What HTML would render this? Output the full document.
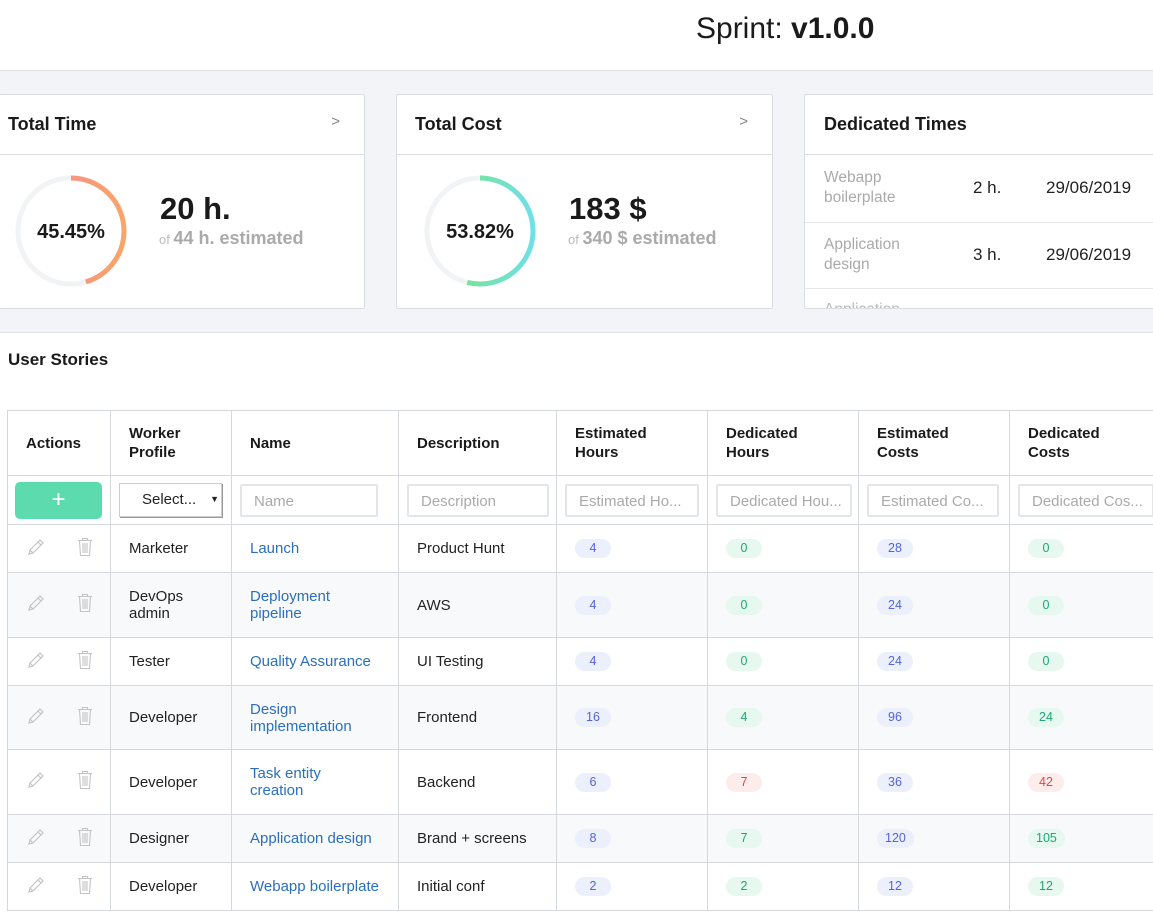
<!DOCTYPE html>
<html><head><meta charset="utf-8"><style>
*{box-sizing:border-box;margin:0;padding:0}
body{width:1153px;height:914px;overflow:hidden;background:#fff;font-family:"Liberation Sans","DejaVu Sans",sans-serif;color:#222;position:relative}
.abs{position:absolute}
.top{left:0;top:0;width:1153px;height:71px;border-bottom:1px solid #dde1e6;background:#fff}
.band{left:0;top:71px;width:1153px;height:262px;background:#f2f4f7;border-bottom:1px solid #e1e4e8}
.card{background:#fff;border:1px solid #d9dde2;border-radius:2px;top:94px;height:215px;overflow:hidden}
.ch{position:absolute;left:0;right:0;top:0;height:60px;border-bottom:1px solid #dde1e6;font-size:18px;font-weight:bold;color:#1a1a1a;padding:19px 0 0 11px}
.chev{position:absolute;right:24px;top:18px;color:#888;font-size:15px;font-weight:normal}
.big{font-size:31px;font-weight:bold;color:#1a1a1a}
.sub{font-size:18px;color:#aaa;font-weight:bold}
.sub small{font-size:13px;font-weight:normal;color:#bbb}
table{position:absolute;left:7px;top:410px;width:1162px;border-collapse:collapse;table-layout:fixed;font-size:15px}
td,th{border:1px solid #d5d8dc;padding:0 0 0 18px;text-align:left;vertical-align:middle}
th{font-weight:bold;font-size:15px;color:#1a1a1a;height:65px;line-height:19px}
tr.g td{background:#f8f9fa}
a{color:#2a6fbd;text-decoration:none}
.inp{height:33px;border:2px solid #e3e5e8;border-radius:2px;color:#aaa;font-size:15px;padding:7px 12px;white-space:nowrap;overflow:hidden;margin-left:-10px}
.p{display:inline-block;min-width:36px;height:19px;line-height:19px;border-radius:10px;text-align:center;font-size:12.5px;padding:0 8px}
.b{background:#eceffc;color:#5564d6}.gr{background:#e6f8f0;color:#1fa578}.r{background:#fdecec;color:#e04848}
.ic{color:#bbb;font-size:18px}
</style></head><body>
<svg width="0" height="0" style="position:absolute"><defs>
<symbol id="tr" viewBox="0 0 16 20"><path d="M1 3.5h14M5.5 3.5V1.5h5v2M2.5 3.5l1 15h9l1-15M6 6v10M8 6v10M10 6v10" fill="none" stroke="#c4c4c4" stroke-width="1.1"/></symbol>
<symbol id="pe" viewBox="0 0 20 20"><path d="M3 17l1-4L14 3l3 3L7 16zM4 13l3 3M12 5l3 3" fill="none" stroke="#c4c4c4" stroke-width="1.2"/></symbol>
</defs></svg>
<div class="abs top"><div class="abs" style="left:696px;top:12px;font-size:30px;color:#1a1a1a">Sprint: <b>v1.0.0</b></div></div>
<div class="abs band"></div>

<div class="abs card" style="left:-1px;width:366px">
<div class="ch" style="padding-left:8px">Total Time<span class="chev">&gt;</span></div>
<svg class="abs" style="left:0;top:60px" width="150" height="154">
<defs><linearGradient id="g1" gradientUnits="userSpaceOnUse" x1="0" y1="22" x2="0" y2="130"><stop offset="0" stop-color="#f78499"/><stop offset="1" stop-color="#f9a569"/></linearGradient>
<linearGradient id="g2" gradientUnits="userSpaceOnUse" x1="0" y1="22" x2="0" y2="130"><stop offset="0" stop-color="#7fe46a"/><stop offset="1" stop-color="#6ee0ea"/></linearGradient></defs>
<circle cx="71" cy="76" r="53" fill="none" stroke="#f1f3f5" stroke-width="5"/>
<circle cx="71" cy="76" r="53" fill="none" stroke="url(#g1)" stroke-width="5" stroke-dasharray="151.3 400" transform="rotate(-90 71 76)"/>
<text x="71" y="83" text-anchor="middle" font-size="20" font-weight="bold" fill="#1a1a1a" font-family="Liberation Sans">45.45%</text></svg>
<div class="abs big" style="left:160px;top:96px">20 h.</div>
<div class="abs sub" style="left:159px;top:133px"><small>of </small>44 h. estimated</div>
</div>

<div class="abs card" style="left:396px;width:377px">
<div class="ch" style="padding-left:18px">Total Cost<span class="chev">&gt;</span></div>
<svg class="abs" style="left:0;top:60px" width="150" height="154">
<circle cx="83" cy="76" r="53" fill="none" stroke="#f1f3f5" stroke-width="5"/>
<circle cx="83" cy="76" r="53" fill="none" stroke="url(#g2)" stroke-width="5" stroke-dasharray="179.2 400" transform="rotate(-90 83 76)"/>
<text x="83" y="83" text-anchor="middle" font-size="20" font-weight="bold" fill="#1a1a1a" font-family="Liberation Sans">53.82%</text></svg>
<div class="abs big" style="left:172px;top:96px">183 $</div>
<div class="abs sub" style="left:171px;top:133px"><small>of </small>340 $ estimated</div>
</div>

<div class="abs card" style="left:804px;width:360px">
<div class="ch" style="padding-left:19px">Dedicated Times</div>
<div class="abs" style="left:0;right:0;top:127px;border-top:1px solid #e4e6e9"></div>
<div class="abs" style="left:0;right:0;top:193px;border-top:1px solid #e4e6e9"></div>
<div class="abs" style="left:19px;top:73px;font-size:15.5px;color:#aaa;line-height:20px">Webapp<br>boilerplate</div>
<div class="abs" style="left:168px;top:83px;font-size:17px">2 h.</div>
<div class="abs" style="left:241px;top:83px;font-size:17px">29/06/2019</div>
<div class="abs" style="left:19px;top:140px;font-size:15.5px;color:#aaa;line-height:20px">Application<br>design</div>
<div class="abs" style="left:168px;top:150px;font-size:17px">3 h.</div>
<div class="abs" style="left:241px;top:150px;font-size:17px">29/06/2019</div>
<div class="abs" style="left:19px;top:206px;font-size:15.5px;color:#bbb">Application</div>
</div>

<div class="abs" style="left:8px;top:350px;font-size:17px;font-weight:bold;color:#1a1a1a">User Stories</div>

<table>
<colgroup><col style="width:103px"><col style="width:121px"><col style="width:167px"><col style="width:158px"><col style="width:151px"><col style="width:151px"><col style="width:151px"><col style="width:160px"></colgroup>
<tr><th>Actions</th><th>Worker<br>Profile</th><th>Name</th><th>Description</th><th>Estimated<br>Hours</th><th>Dedicated<br>Hours</th><th>Estimated<br>Costs</th><th>Dedicated<br>Costs</th></tr>
<tr style="height:49px"><td style="padding-left:7px"><div style="width:87px;height:37px;background:#5cdcae;border-radius:5px;color:#fff;text-align:center;font-size:24px;line-height:35px;font-weight:300">+</div></td>
<td style="padding-left:8px"><div style="width:103px;height:34px;border:1px solid #ccc;box-shadow:1px 1px 0 #999;font-size:15px;padding:7px 0 0 22px;color:#222">Select... <span style="font-size:9px;float:right;margin:3px 2px 0 0">▼</span></div></td>
<td><div class="inp" style="width:138px">Name</div></td><td><div class="inp" style="width:142px">Description</div></td><td><div class="inp" style="width:134px">Estimated Ho...</div></td><td><div class="inp" style="width:136px">Dedicated Hou...</div></td><td><div class="inp" style="width:132px">Estimated Co...</div></td><td><div class="inp" style="width:136px">Dedicated Cos...</div></td></tr>
<tr style="height:48px"><td><svg width="20" height="20"><use href="#pe"/></svg><svg width="16" height="20" style="margin-left:31px"><use href="#tr"/></svg></td><td>Marketer</td><td><a>Launch</a></td><td>Product Hunt</td><td><span class="p b">4</span></td><td><span class="p gr">0</span></td><td><span class="p b">28</span></td><td><span class="p gr">0</span></td></tr>
<tr class="g" style="height:65px"><td><svg width="20" height="20"><use href="#pe"/></svg><svg width="16" height="20" style="margin-left:31px"><use href="#tr"/></svg></td><td>DevOps<br>admin</td><td><a>Deployment<br>pipeline</a></td><td>AWS</td><td><span class="p b">4</span></td><td><span class="p gr">0</span></td><td><span class="p b">24</span></td><td><span class="p gr">0</span></td></tr>
<tr style="height:48px"><td><svg width="20" height="20"><use href="#pe"/></svg><svg width="16" height="20" style="margin-left:31px"><use href="#tr"/></svg></td><td>Tester</td><td><a>Quality Assurance</a></td><td>UI Testing</td><td><span class="p b">4</span></td><td><span class="p gr">0</span></td><td><span class="p b">24</span></td><td><span class="p gr">0</span></td></tr>
<tr class="g" style="height:64px"><td><svg width="20" height="20"><use href="#pe"/></svg><svg width="16" height="20" style="margin-left:31px"><use href="#tr"/></svg></td><td>Developer</td><td><a>Design<br>implementation</a></td><td>Frontend</td><td><span class="p b">16</span></td><td><span class="p gr">4</span></td><td><span class="p b">96</span></td><td><span class="p gr">24</span></td></tr>
<tr style="height:65px"><td><svg width="20" height="20"><use href="#pe"/></svg><svg width="16" height="20" style="margin-left:31px"><use href="#tr"/></svg></td><td>Developer</td><td><a>Task entity<br>creation</a></td><td>Backend</td><td><span class="p b">6</span></td><td><span class="p r">7</span></td><td><span class="p b">36</span></td><td><span class="p r">42</span></td></tr>
<tr class="g" style="height:48px"><td><svg width="20" height="20"><use href="#pe"/></svg><svg width="16" height="20" style="margin-left:31px"><use href="#tr"/></svg></td><td>Designer</td><td><a>Application design</a></td><td>Brand + screens</td><td><span class="p b">8</span></td><td><span class="p gr">7</span></td><td><span class="p b">120</span></td><td><span class="p gr">105</span></td></tr>
<tr style="height:48px"><td><svg width="20" height="20"><use href="#pe"/></svg><svg width="16" height="20" style="margin-left:31px"><use href="#tr"/></svg></td><td>Developer</td><td><a>Webapp boilerplate</a></td><td>Initial conf</td><td><span class="p b">2</span></td><td><span class="p gr">2</span></td><td><span class="p b">12</span></td><td><span class="p gr">12</span></td></tr>
</table>
</body></html>
